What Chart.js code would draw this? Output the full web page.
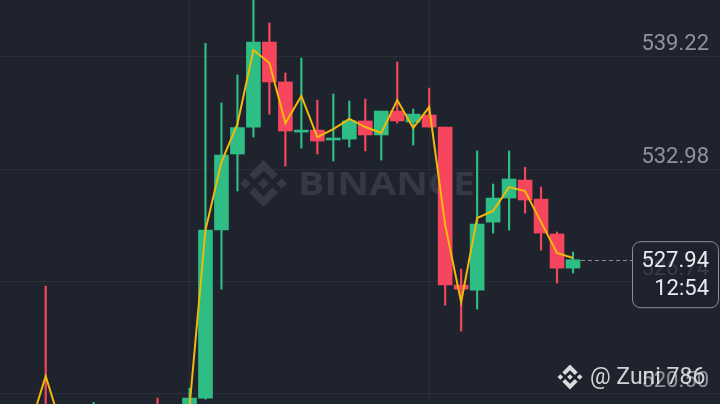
<!DOCTYPE html>
<html>
<head>
<meta charset="utf-8">
<script src="https://cdn.jsdelivr.net/npm/chart.js@4.4.1/dist/chart.umd.min.js"></script>
<style>
  html, body { margin: 0; padding: 0; background: #1f232e; }
  canvas { display: block; }
</style>
</head>
<body>
<canvas id="chart" width="720" height="404"></canvas>
<script>
// candle slots, oldest on the left (only the tops of the first ones show)
const candleIndex = [-2, -1, 0, 1, 2, 3, 4, 5, 6, 7, 8, 9, 10, 11, 12, 13, 14, 15, 16, 17,
    18, 19, 20, 21, 22, 23, 24, 25, 26, 27, 28, 29, 30, 31, 32, 33];
const openPrices = [518.90, 518.60, 519.60, 519.20, 518.70, 519.10, 519.50, 519.20, 519.40, 519.60,
    519.30, 519.50, 520.24, 529.59, 533.82, 535.32, 540.05, 537.83, 535.04, 535.15,
    534.60, 534.65, 535.66, 534.88, 536.21, 535.60, 535.99, 535.32, 526.53, 526.25,
    530.03, 531.37, 532.37, 531.31, 529.37, 527.47];
const highPrices = [519.40, 519.30, 526.47, 519.60, 519.50, 520.00, 519.80, 519.70, 519.80, 520.24,
    519.70, 520.79, 539.98, 536.66, 538.22, 542.70, 541.11, 538.33, 539.16, 536.82,
    537.16, 536.77, 536.88, 536.21, 538.94, 536.32, 537.49, 535.32, 527.42, 533.99,
    532.15, 533.99, 533.09, 531.98, 529.48, 528.36];
const lowPrices = [518.20, 518.00, 518.80, 518.40, 518.30, 518.80, 518.90, 518.70, 519.00, 519.00,
    518.90, 519.30, 520.18, 526.30, 531.76, 534.76, 536.04, 533.15, 534.15, 533.82,
    533.43, 534.21, 533.99, 533.48, 535.54, 534.32, 535.32, 525.41, 523.97, 525.19,
    529.42, 529.59, 530.53, 528.47, 526.64, 527.20];
const closePrices = [518.60, 518.90, 519.20, 518.70, 519.10, 519.50, 519.20, 519.40, 519.60, 519.30,
    519.50, 520.24, 529.59, 533.76, 535.29, 540.05, 537.83, 535.10, 535.15, 534.54,
    534.71, 535.66, 534.88, 536.21, 535.66, 536.04, 535.32, 526.53, 526.30, 529.92,
    531.37, 532.43, 531.26, 529.42, 527.47, 527.94];
const maValues = [517.80, 518.60, 521.46, 518.60, 518.30, 518.60, 518.70, 518.60, 518.80, 518.90,
    518.90, 519.75, 529.59, 533.37, 535.49, 539.61, 538.88, 535.54, 537.05, 534.76,
    535.21, 535.77, 535.32, 534.99, 536.82, 535.27, 536.43, 529.87, 525.58, 530.26,
    530.65, 531.98, 531.76, 530.03, 528.31, 528.03];
const priceTicks = [520.50, 526.74, 532.98, 539.22];
const timeTicks = [9, 24];
const lastPriceText = "527.94";
const countdownText = "12:54";

const UP = "#2ebd85";
const DOWN = "#f6465d";
const GRID = "#2a2e39";

const candleColors = openPrices.map((o, i) => closePrices[i] >= o ? UP : DOWN);
const wickData = candleIndex.map((k, i) => ({ x: k, y: [lowPrices[i], highPrices[i]] }));
const bodyData = candleIndex.map((k, i) => ({ x: k, y: [openPrices[i], closePrices[i]] }));
const maData = candleIndex.map((k, i) => ({ x: k, y: maValues[i] }));

// official Binance mark, 126.61 units wide
const logoPath = new Path2D("M38.73 53.2l24.59-24.58 24.6 24.6 14.3-14.31L63.32 0 24.43 38.9l14.3 14.31M0 63.31l14.3-14.31 14.31 14.31-14.31 14.3zM38.73 73.41l24.59 24.59 24.6-24.6 14.31 14.29-38.9 38.91-38.91-38.88-.02-.02zM98 63.31l14.3-14.31 14.31 14.3-14.31 14.32zM77.83 63.3L63.32 48.78 52.59 59.51l-1.24 1.23-2.54 2.54-.02.02.02.03 14.51 14.5 14.51-14.52.01-.01z");

function drawLogo(ctx, cx, cy, size, color) {
    const s = size / 126.61;
    ctx.save();
    ctx.translate(cx - 63.3 * s, cy - 63.3 * s);
    ctx.scale(s, s);
    ctx.fillStyle = color;
    ctx.fill(logoPath);
    ctx.restore();
}

const overlay = {
    id: "overlay",
    beforeDatasetsDraw(chart) {
        const ctx = chart.ctx;
        // faint watermark behind the candles
        drawLogo(ctx, 263.5, 183.5, 47, "#343944");
        ctx.save();
        ctx.font = "bold 32px 'Open Sans'";
        ctx.fillStyle = "#343944";
        ctx.textBaseline = "alphabetic";
        const w = ctx.measureText("BINANCE").width;
        ctx.translate(298, 195);
        ctx.scale(177 / w, 1);
        ctx.fillText("BINANCE", 0, 0);
        ctx.restore();
    },
    afterDraw(chart) {
        const ctx = chart.ctx;
        const y = chart.scales.y;
        const x = chart.scales.x;
        ctx.save();

        // price labels on the right
        ctx.font = "22px Roboto";
        ctx.fillStyle = "#8e939b";
        ctx.textAlign = "right";
        ctx.textBaseline = "middle";
        priceTicks.forEach(v => {
            ctx.fillText(v.toFixed(2), 709, y.getPixelForValue(v) - 12);
        });

        // last price dashed line + box
        const py = y.getPixelForValue(closePrices[closePrices.length - 1]);
        const startX = x.getPixelForValue(candleIndex[candleIndex.length - 1]) + 8;
        ctx.strokeStyle = "#8a8f99";
        ctx.lineWidth = 1;
        ctx.setLineDash([4, 3]);
        ctx.beginPath();
        ctx.moveTo(startX, Math.round(py) + 0.5);
        ctx.lineTo(632, Math.round(py) + 0.5);
        ctx.stroke();
        ctx.setLineDash([]);

        ctx.beginPath();
        ctx.roundRect(632.5, py - 18, 86, 66, 8);
        ctx.fillStyle = "rgba(31,35,46,0.78)";
        ctx.fill();
        ctx.strokeStyle = "#8a8f99";
        ctx.stroke();

        ctx.fillStyle = "#eaecef";
        ctx.font = "22px Roboto";
        ctx.fillText(lastPriceText, 709, py + 2);
        ctx.fillText(countdownText, 709, py + 30);

        // author tag bottom right
        drawLogo(ctx, 570, 377, 25, "rgba(235,235,235,0.92)");
        ctx.font = "23px Roboto";
        ctx.textAlign = "left";
        ctx.fillStyle = "rgba(235,235,235,0.88)";
        ctx.fillText("@ Zuni 786", 590, 378);

        ctx.restore();
    }
};

new Chart(document.getElementById("chart"), {
    type: "bar",
    data: {
        datasets: [
            {
                type: "line",
                data: maData,
                borderColor: "#f0b90b",
                borderWidth: 2,
                pointRadius: 0,
                tension: 0,
                order: 0
            },
            {
                data: bodyData,
                backgroundColor: candleColors,
                barThickness: 14,
                minBarLength: 2,
                grouped: false,
                borderWidth: 0,
                order: 1
            },
            {
                data: wickData,
                backgroundColor: candleColors,
                barThickness: 1.5,
                grouped: false,
                borderWidth: 0,
                order: 2
            }
        ]
    },
    options: {
        responsive: false,
        animation: false,
        layout: { padding: 0 },
        plugins: {
            legend: { display: false },
            tooltip: { enabled: false }
        },
        scales: {
            x: {
                type: "linear",
                min: -2.86,
                max: 42.2,
                offset: false,
                afterBuildTicks: scale => {
                    scale.ticks = timeTicks.map(v => ({ value: v }));
                },
                ticks: { display: false },
                grid: { color: GRID, drawTicks: false, offset: false },
                border: { display: false }
            },
            y: {
                type: "linear",
                position: "right",
                min: 519.91,
                max: 542.39,
                afterBuildTicks: scale => {
                    scale.ticks = priceTicks.map(v => ({ value: v }));
                },
                ticks: { display: false },
                grid: { color: GRID, drawTicks: false },
                border: { display: false }
            }
        }
    },
    plugins: [overlay]
});
</script>
</body>
</html>
